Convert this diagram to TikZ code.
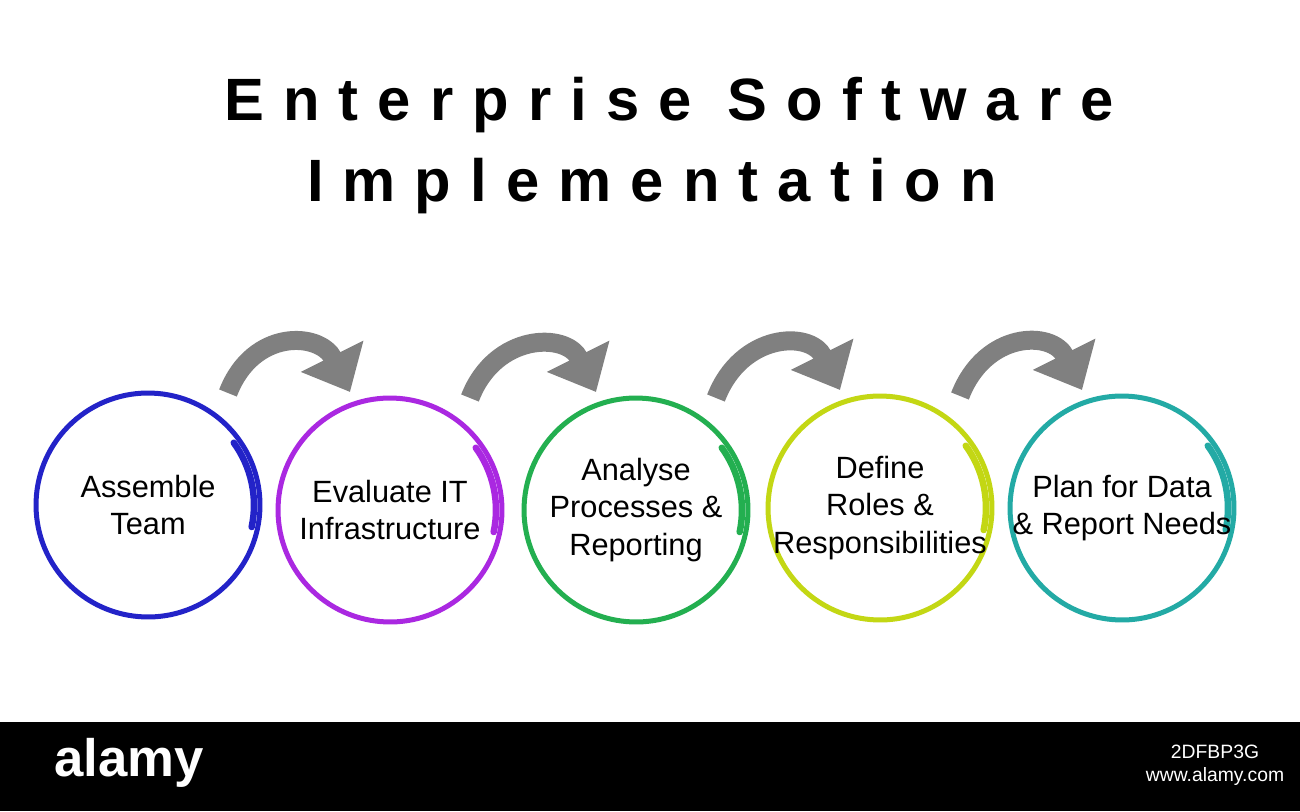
\documentclass[tikz,border=0pt]{standalone}
\usepackage{fontspec}
\setmainfont{Liberation Sans}
\newfontfamily\titlefont[LetterSpace=32]{Liberation Sans}
\usetikzlibrary{arrows.meta,calc}
\definecolor{cA}{RGB}{35,35,200}
\definecolor{cB}{RGB}{170,40,225}
\definecolor{cC}{RGB}{35,175,80}
\definecolor{cD}{RGB}{195,215,20}
\definecolor{cE}{RGB}{35,170,165}
\definecolor{arr}{RGB}{128,128,128}
\begin{document}
\begin{tikzpicture}[x=0.02cm,y=-0.02cm,
  ring/.style={circle,minimum size=4.45cm,inner sep=0pt},
  lbl/.style={align=center,font=\fontsize{17.5}{21.5}\selectfont},
  flow/.style={arr,line width=0.38cm,-{Triangle[length=0.8cm,width=1.35cm]}}]
\useasboundingbox (0,0) rectangle (1300,811);
\fill[white] (0,0) rectangle (1300,811);
\node (t1) at (669,105) {\titlefont\bfseries\fontsize{34}{40}\selectfont Enterprise Software};
\node (t2) at (652,186) {\titlefont\bfseries\fontsize{34}{40}\selectfont Implementation};
\foreach \n/\x/\y/\c in {a/148/505/cA,b/390/510/cB,c/636/510/cC,d/880/508/cD,e/1122/508/cE}{
  \node[ring] (\n) at (\x,\y) {};
  \draw[\c,line width=0.1cm,line cap=round] ($(\n.center)+(40:2.24cm)$) arc[start angle=40,end angle=420,radius=2.24cm];
  \draw[\c,line width=0.13cm,line cap=round] ($(\n.center)+(36:2.12cm)$) arc[start angle=36,end angle=-12,radius=2.12cm];
}
\node[lbl] (la) at (a) {Assemble\\Team};
\node[lbl] (lb) at (b) {Evaluate IT\\Infrastructure};
\node[lbl] (lc) at (c) {Analyse\\Processes \&\\Reporting};
\node[lbl] (ld) at (d) {Define\\Roles \&\\Responsibilities};
\node[lbl] (le) at (e) {Plan for Data\\\& Report Needs};
\foreach \p/\q in {a/b,b/c,c/d,d/e}{
  \coordinate (s\p) at ($(\p.center)+(80,-112)$);
  \coordinate (e\p) at ($(\q.center)+(-40,-118)$);
  \draw[flow] (s\p) .. controls ($(s\p)+(25,-65)$) and ($(e\p)+(-30,-60)$) .. (e\p);
}
\fill[black] (0,722) rectangle (1300,811);
\node[white,font=\bfseries\fontsize{30}{30}\selectfont,anchor=west] (al) at (48,763) {alamy};
\node[white,font=\fontsize{11}{13}\selectfont,align=center] (id) at (1215,765) {2DFBP3G\\www.alamy.com};
\end{tikzpicture}
\end{document}
